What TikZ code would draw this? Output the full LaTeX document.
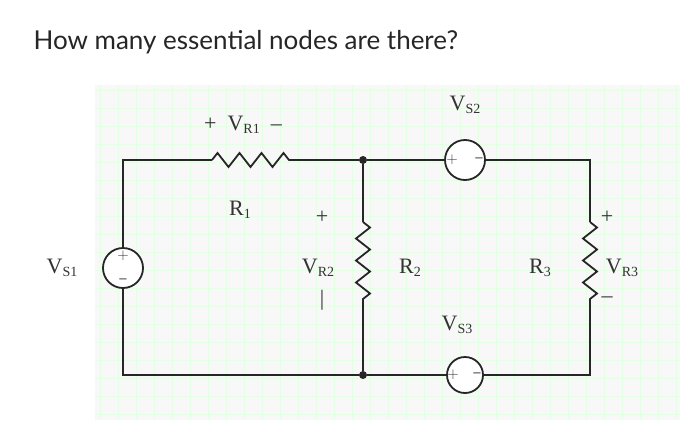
\documentclass[tikz,border=0pt]{standalone}
\usepackage{fontspec}
\setmainfont{Liberation Serif}
\newfontfamily\titlefont{Lato}
\usetikzlibrary{decorations.pathmorphing}
\newcommand{\sub}[1]{\raisebox{-0.25ex}{\fontsize{14}{14}\selectfont #1}}
\begin{document}
\begin{tikzpicture}[x=1pt,y=-1pt,
    wire/.style={line width=1.8pt, black!85},
    res/.style={wire, decorate, decoration={zigzag, amplitude=7, segment length=22}},
    src/.style={circle, draw=black!85, line width=1.8pt, fill=white, minimum size=40, inner sep=0},
    dot/.style={circle, fill=black!85, inner sep=0, minimum size=8},
    pt/.style={inner sep=0, minimum size=0},
    sgn/.style={font=\sffamily\fontsize{15}{15}\selectfont, text=black!80},
    lbl/.style={font=\fontsize{22}{22}\selectfont, text=black!80}]
  % background
  \fill[white] (0,0) rectangle (700,439);
  \fill[green!4!gray!6] (95,85) rectangle (680,420);
  \foreach \gx in {100,118,...,680} \draw[green!10, line width=0.5pt] (\gx,85) -- (\gx,420);
  \foreach \gy in {90,108,...,420} \draw[green!10, line width=0.5pt] (95,\gy) -- (680,\gy);
  \useasboundingbox (0,0) rectangle (700,439);
  % title
  \node[anchor=west, font=\titlefont\fontsize{26}{26}\selectfont, text=black!85] (title) at (30,42) {How many essential nodes are there?};
  % corners and taps
  \node[pt] (tl) at (123,160) {};
  \node[pt] (bl) at (123,375) {};
  \node[pt] (tr) at (590,160) {};
  \node[pt] (br) at (590,375) {};
  \node[pt] (r1a) at (212,160) {};
  \node[pt] (r1b) at (290,160) {};
  \node[pt] (r2a) at (363,222) {};
  \node[pt] (r2b) at (363,308) {};
  \node[pt] (r3a) at (590,222) {};
  \node[pt] (r3b) at (590,308) {};
  \node[dot] (ntop) at (363,160) {};
  \node[dot] (nbot) at (363,375) {};
  % sources
  \node[src] (vs1) at (123,268) {};
  \node[src] (vs2) at (465,160) {};
  \node[src, minimum size=36] (vs3) at (465,375) {};
  \node[sgn] at (123,256) {+};
  \node[sgn] at (123,281) {\textendash};
  \node[sgn] at (452,160) {+};
  \node[sgn] at (479,160) {\textendash};
  \node[sgn] at (453,375) {+};
  \node[sgn] at (477,375) {\textendash};
  % wires
  \draw[wire] (vs1) -- (tl.center) -- (r1a.center);
  \draw[res] (r1a.center) -- (r1b.center);
  \draw[wire] (r1b.center) -- (ntop) -- (vs2);
  \draw[wire] (vs2) -- (tr.center) -- (r3a.center);
  \draw[res] (r3a.center) -- (r3b.center);
  \draw[wire] (r3b.center) -- (br.center) -- (vs3);
  \draw[wire] (vs3) -- (nbot) -- (bl.center) -- (vs1);
  \draw[wire] (ntop) -- (r2a.center);
  \draw[res] (r2a.center) -- (r2b.center);
  \draw[wire] (r2b.center) -- (nbot);
  % labels
  \node[lbl] (lr1) at (243,125) {+\enspace V\sub{R1}\enspace \textendash};
  \node[lbl] (nr1) at (240,210) {R\sub{1}};
  \node[lbl] (lvs2) at (465,105) {V\sub{S2}};
  \node[lbl] (lvs1) at (62,268) {V\sub{S1}};
  \node[lbl] at (322,217) {+};
  \node[lbl] (lr2) at (318,268) {V\sub{R2}};
  \node[lbl] at (322,300) {|};
  \node[lbl] (nr2) at (410,268) {R\sub{2}};
  \node[lbl] (nr3) at (540,268) {R\sub{3}};
  \node[lbl] at (607,217) {+};
  \node[lbl] (lr3) at (622,268) {V\sub{R3}};
  \node[lbl] at (607,300) {\textendash};
  \node[lbl] (lvs3) at (457,325) {V\sub{S3}};
\end{tikzpicture}
\end{document}
